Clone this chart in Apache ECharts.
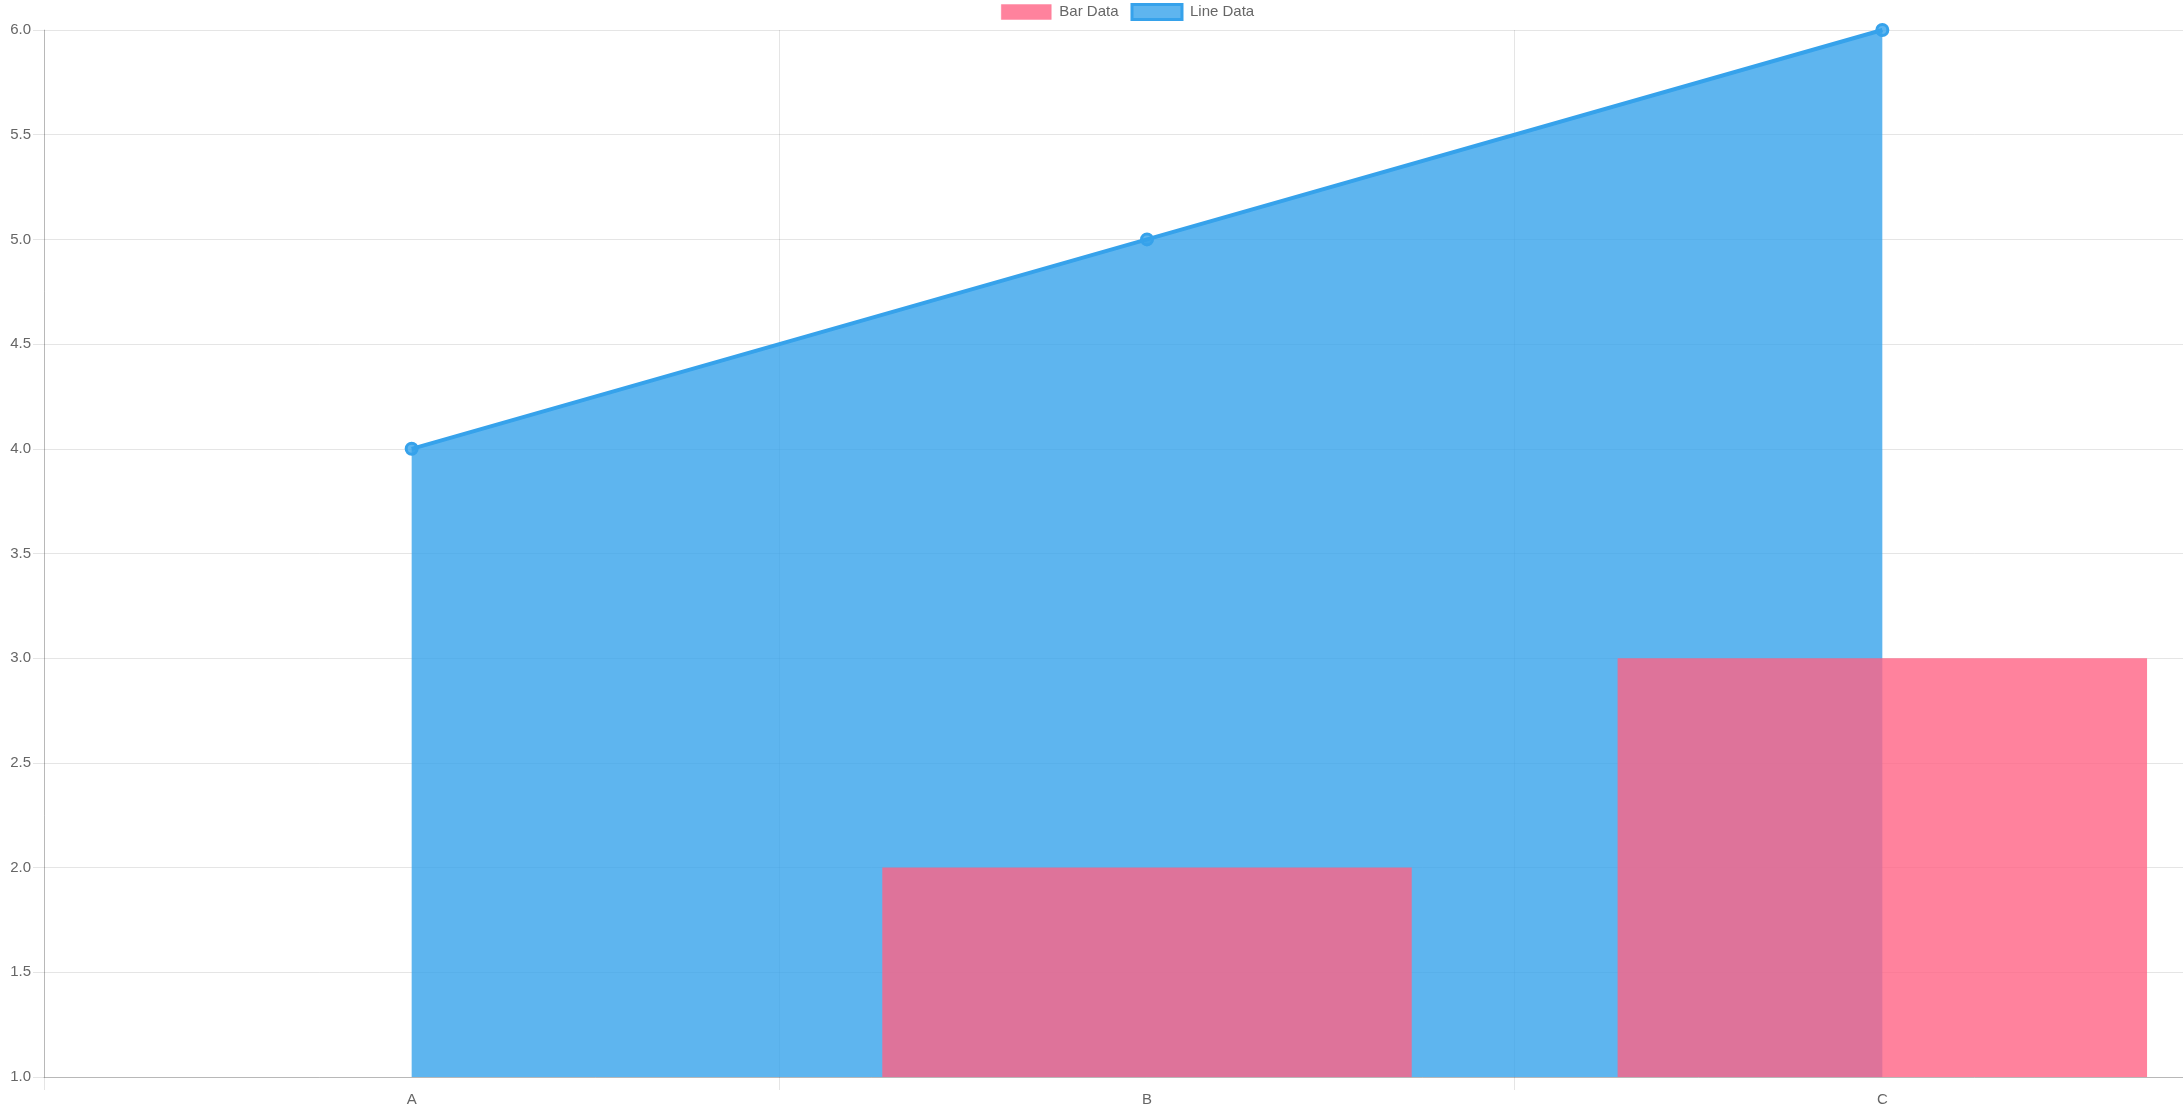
<!DOCTYPE html>
<html>

<head>
  <meta charset="utf-8">
  <title>Bar and Line</title>
  <script src="https://cdn.jsdelivr.net/npm/echarts@6/dist/echarts.min.js"></script>
  <style>
    html, body { margin: 0; padding: 0; overflow: hidden; background: #fff; }
  </style>
</head>

<body>
  <div id="main" style="width: 2255px;height:1115px;"></div>
  <script type="text/javascript">
    var categories = ['A', 'B', 'C'];
    var barData = [1, 2, 3];
    var lineData = [4, 5, 6];

    var pink = 'rgba(255, 99, 132, 0.8)';
    var blue = 'rgb(54, 162, 235)';
    var blueFill = 'rgba(54, 162, 235, 0.8)';
    var font = 'Liberation Sans, Arial, Helvetica, sans-serif';

    var myChart = echarts.init(document.getElementById('main'));

    var option = {
      animation: false,
      legend: {
        top: 3,
        left: 'center',
        padding: 0,
        itemWidth: 50,
        itemHeight: 15,
        itemGap: 12,
        textStyle: {
          color: '#666',
          fontSize: 15,
          fontFamily: font,
          padding: [0, 0, 0, 3]
        },
        data: [
          {
            name: 'Bar Data',
            icon: 'rect',
            itemStyle: { color: pink, borderColor: 'rgba(255, 99, 132, 0.3)', borderWidth: 1 }
          },
          {
            name: 'Line Data',
            icon: 'rect',
            itemStyle: { color: blueFill, borderColor: blue, borderWidth: 3 }
          }
        ]
      },
      grid: {
        left: 44,
        right: 5,
        top: 30,
        bottom: 38
      },
      xAxis: {
        type: 'category',
        data: categories,
        boundaryGap: true,
        axisLine: { lineStyle: { color: 'rgba(0,0,0,0.2)' } },
        axisTick: { show: true, length: 13, lineStyle: { color: 'rgba(0,0,0,0.1)' } },
        axisLabel: { color: '#666', fontSize: 15, fontFamily: font, margin: 15 },
        splitLine: { show: true, lineStyle: { color: 'rgba(0,0,0,0.1)' } }
      },
      yAxis: {
        type: 'value',
        min: 1,
        max: 6,
        interval: 0.5,
        axisLine: { show: true, lineStyle: { color: 'rgba(0,0,0,0.2)' } },
        axisTick: { show: true, length: 11, lineStyle: { color: 'rgba(0,0,0,0.1)' } },
        axisLabel: {
          color: '#666',
          fontSize: 15,
          fontFamily: font,
          margin: 13,
          padding: [4, 0, 0, 0],
          formatter: function (v) { return v.toFixed(1); }
        },
        splitLine: { show: true, lineStyle: { color: 'rgba(0,0,0,0.1)' } }
      },
      series: [
        {
          name: 'Bar Data',
          type: 'bar',
          data: barData,
          barWidth: '72%',
          z: 3,
          itemStyle: { color: pink }
        },
        {
          name: 'Line Data',
          type: 'line',
          data: lineData,
          z: 2,
          symbol: 'circle',
          symbolSize: 11,
          showSymbol: true,
          lineStyle: { color: blue, width: 4 },
          itemStyle: { color: blueFill, borderColor: blue, borderWidth: 3 },
          areaStyle: { color: blueFill, origin: 'start', opacity: 1 }
        }
      ]
    };

    myChart.setOption(option);
  </script>
</body>

</html>
